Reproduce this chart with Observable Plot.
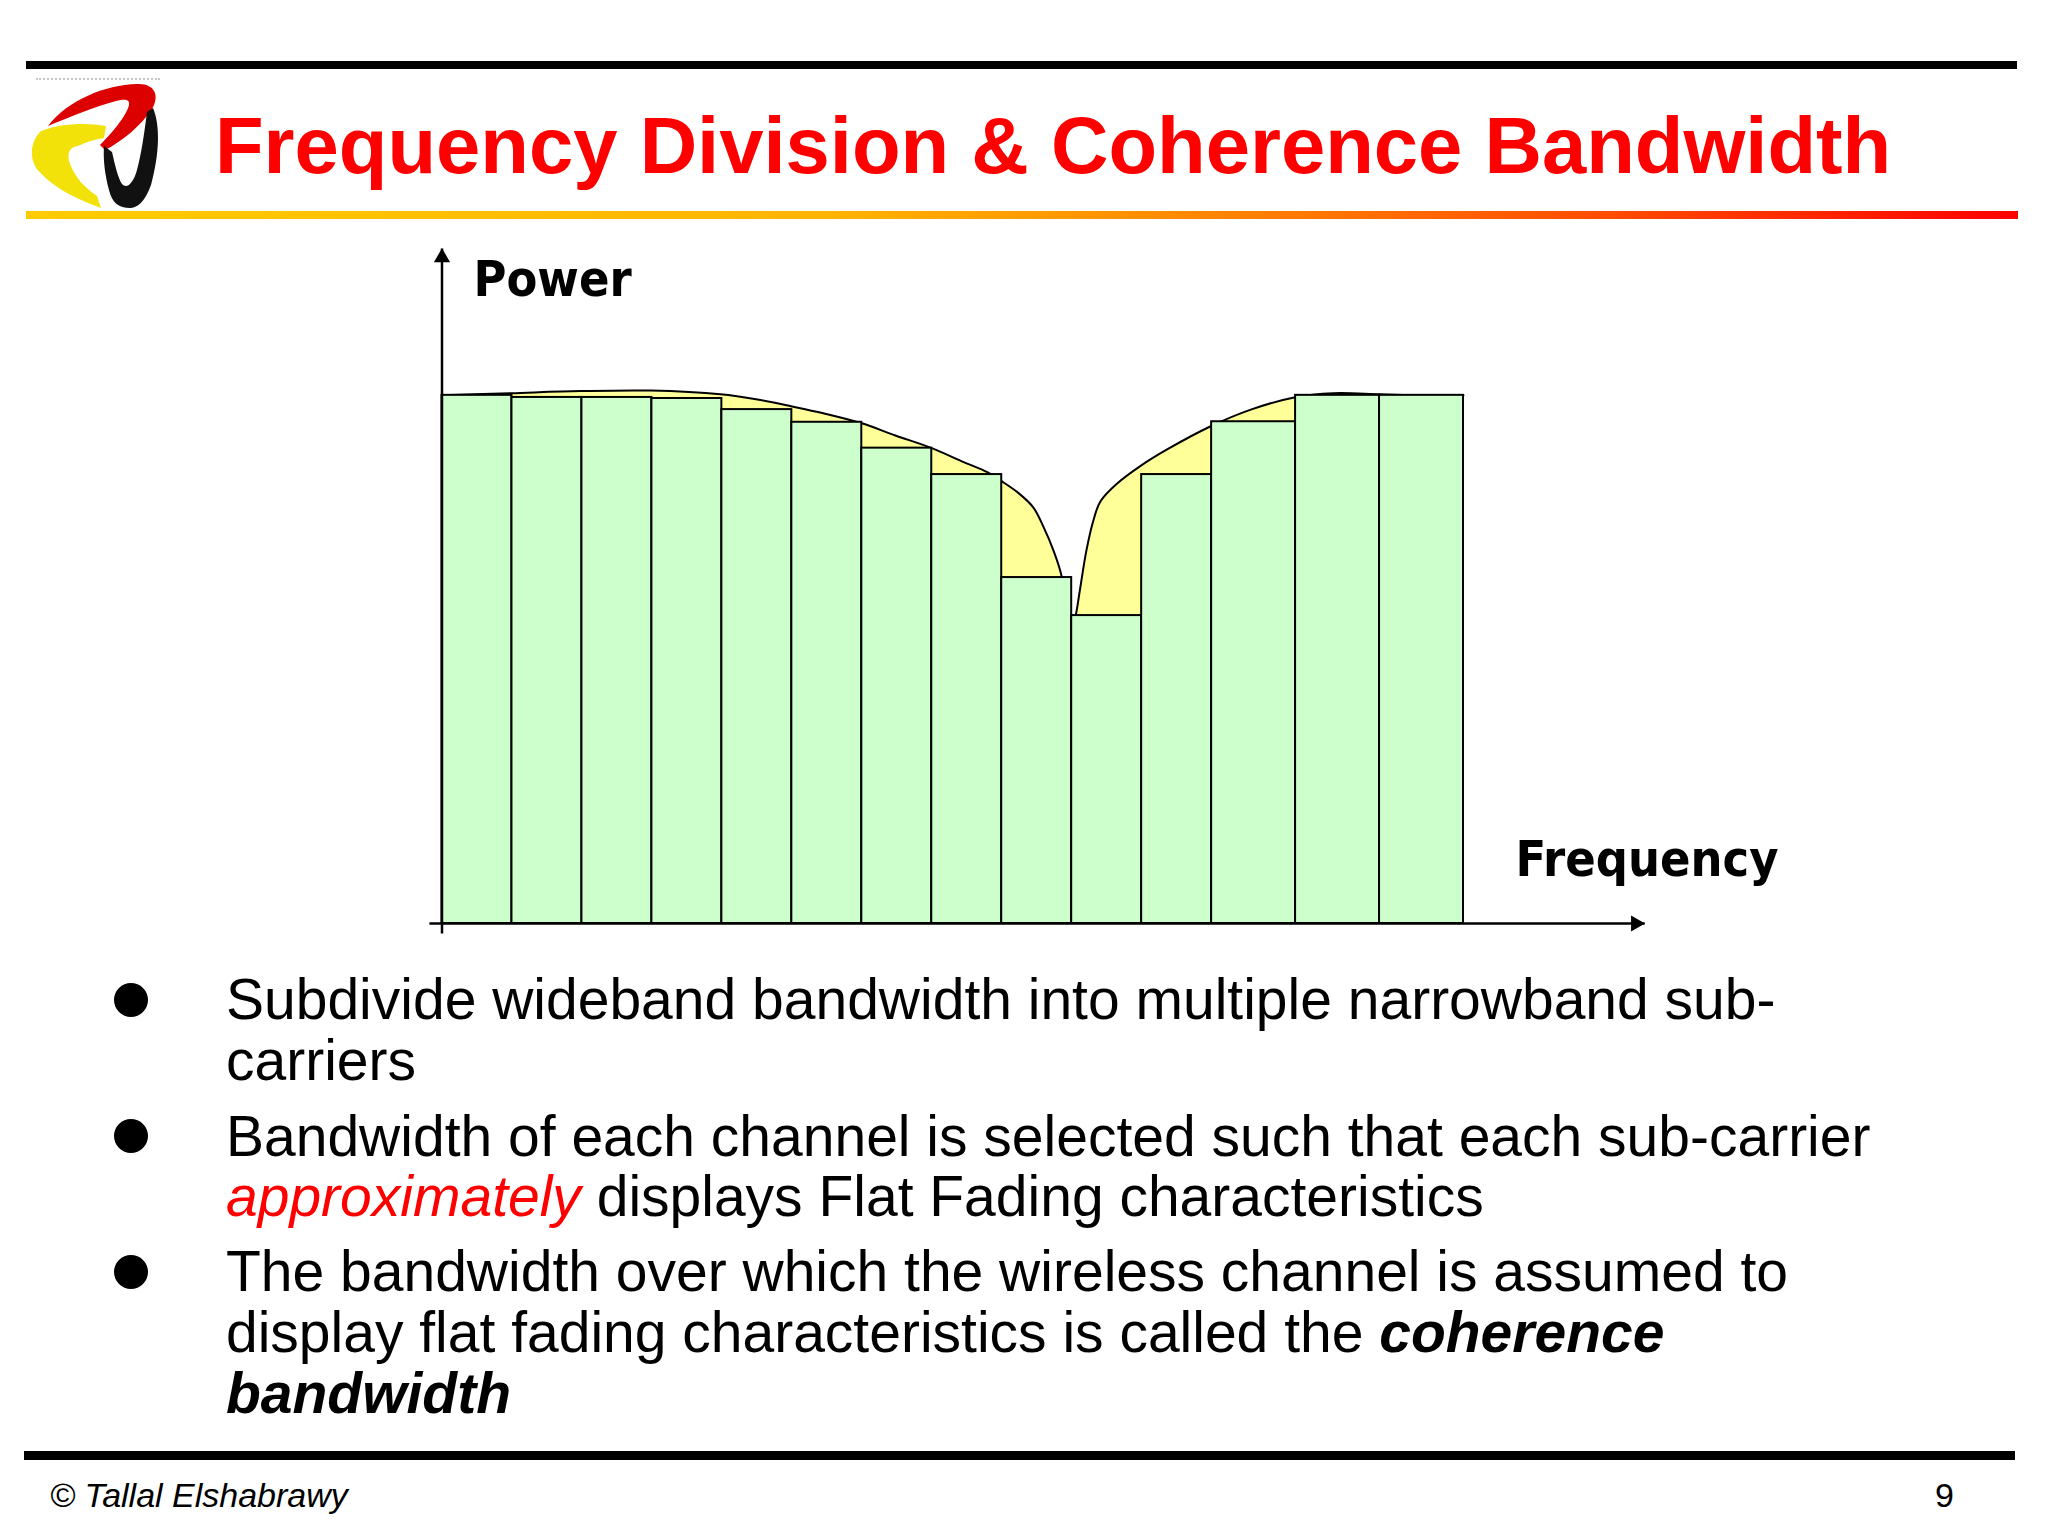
<!DOCTYPE html>
<html><head><meta charset="utf-8">
<script src="https://cdn.jsdelivr.net/npm/d3@7"></script>
<script src="https://cdn.jsdelivr.net/npm/@observablehq/plot@0.6"></script>
<style>
html,body{margin:0;padding:0;background:#fff;}
body{width:2048px;height:1536px;position:relative;overflow:hidden;font-family:"Liberation Sans",Arial,Helvetica,sans-serif;color:#000;}
.abs{position:absolute;white-space:nowrap;}
.rule{position:absolute;}
.title{left:215px;top:106px;font-size:79.6px;line-height:80px;font-weight:bold;color:#FF0000;}
.line{left:226px;font-size:57px;line-height:60px;}
.dot{position:absolute;left:114px;width:34px;height:34px;border-radius:50%;background:#000;}
.red{color:#FF0000;font-style:italic;}
.bi{font-weight:bold;font-style:italic;}
.foot{font-size:34px;line-height:34px;top:1478px;}
#chart{position:absolute;left:0;top:230px;}
</style></head><body>

<div class="rule" style="left:26px;top:61px;width:1991px;height:8px;background:#000;"></div>
<div class="rule" style="left:36px;top:78px;width:124px;height:0;border-top:2px dotted #c8c8c8;"></div>
<svg class="abs" style="left:0;top:0" width="200" height="220">
  <path d="M48,126 C68,100 105,85 137,84 C155,83 160,96 152,109 C141,126 121,142 105,150 L100,145 C115,130 127,114 129,105 C130,99 125,99 116,101 C93,107 70,117 48,126 Z" fill="#DD0000"/>
  <path d="M106,126 C85,122 58,124 41,131 C31,140 29,156 36,168 C49,184 70,197 101,208 L97,196 C85,187 75,179 69,161 C67,151 71,147 78,146 C89,141 97,139 104,138 Z" fill="#F2E20A"/>
  <path d="M153,108 C160,125 160,152 151,185 C145,202 137,208 130,208 C119,208 112,203 109,190 C105,175 103,160 104,146 L112,152 C115,165 118,178 122,184 C127,189 133,184 137,170 C141,155 144,136 147,112 Z" fill="#111"/>
</svg>
<div class="abs title">Frequency Division &amp; Coherence Bandwidth</div>
<div class="rule" style="left:26px;top:211px;width:1992px;height:8px;background:linear-gradient(to right,#FFCC00 0%,#FFB400 40%,#FF8A00 58%,#FF4A00 80%,#FF0000 100%);"></div>

<div id="chart"></div>

<div class="dot" style="top:983px"></div>
<div class="dot" style="top:1119px"></div>
<div class="dot" style="top:1255px"></div>
<div class="abs line" style="top:969px">Subdivide wideband bandwidth into multiple narrowband sub-</div>
<div class="abs line" style="top:1030px">carriers</div>
<div class="abs line" style="top:1106px">Bandwidth of each channel is selected such that each sub-carrier</div>
<div class="abs line" style="top:1166px"><span class="red">approximately</span> displays Flat Fading characteristics</div>
<div class="abs line" style="top:1241px">The bandwidth over which the wireless channel is assumed to</div>
<div class="abs line" style="top:1302px">display flat fading characteristics is called the <span class="bi">coherence</span></div>
<div class="abs line" style="top:1363px"><span class="bi">bandwidth</span></div>

<div class="rule" style="left:24px;top:1451px;width:1991px;height:9px;background:#000;"></div>
<div class="abs foot" style="left:50px;font-style:italic;">© Tallal Elshabrawy</div>
<div class="abs foot" style="left:1935px;">9</div>

<script>
// Sub-carrier band edges (frequency units) and their flat power levels
const subcarrierEdges = [0, 1, 2, 3, 4, 5, 6, 7, 8, 9, 10, 11, 12.2, 13.4, 14.6];
const subcarrierPower = [10.0, 9.96, 9.96, 9.94, 9.73, 9.49, 9.0, 8.5, 6.55, 5.83, 8.5, 9.5, 10.0, 10.0];

// Channel frequency response (smooth curve behind the bars)
const responseFreq  = [0.0, 0.99, 1.98, 2.98, 3.98, 4.51, 5.0, 5.45, 6.0, 6.48, 7.0, 7.43, 7.8, 7.98, 8.23, 8.45, 8.6, 8.74, 8.86, 8.96, 9.06, 9.11, 9.21, 9.31, 9.41, 9.65, 9.98, 10.37, 10.98, 11.56, 12.18, 12.74, 13.4, 13.98, 14.6];
const responsePower = [10.0, 10.04, 10.08, 10.09, 10.02, 9.92, 9.79, 9.66, 9.47, 9.24, 9.0, 8.75, 8.54, 8.39, 8.16, 7.88, 7.5, 7.06, 6.55, 5.36, 5.85, 6.25, 7.06, 7.63, 7.99, 8.33, 8.66, 8.98, 9.41, 9.73, 9.96, 10.04, 10.02, 10.0, 10.0];

const axisLabels = ["Power", "Frequency"];

const bars = subcarrierPower.map((p, i) => ({x1: subcarrierEdges[i], x2: subcarrierEdges[i + 1], p}));
const resp = responseFreq.map((f, i) => ({f, p: responsePower[i]}));

const labelFont = "'DejaVu Sans Condensed', 'DejaVu Sans', sans-serif";

const chart = Plot.plot({
  width: 2048,
  height: 720,
  marginLeft: 441.5,
  marginRight: 585,
  marginTop: 18,
  marginBottom: 27,
  x: {domain: [0, 14.6], axis: null},
  y: {domain: [0, 12.78], axis: null},
  style: {background: "transparent", overflow: "visible", fontFamily: labelFont},
  marks: [
    Plot.areaY(resp, {x: "f", y: "p", fill: "#FFFF99", curve: "catmull-rom"}),
    Plot.line(resp, {x: "f", y: "p", stroke: "#000", strokeWidth: 2, curve: "catmull-rom"}),
    Plot.rectY(bars, {x1: "x1", x2: "x2", y: "p", fill: "#CCFFCC", stroke: "#000", strokeWidth: 2}),
    Plot.link([0], {x1: -0.18, x2: 17.19, y1: 0, y2: 0, stroke: "#000", strokeWidth: 2.5}),
    Plot.link([0], {x1: 0, x2: 0, y1: -0.19, y2: 12.78, stroke: "#000", strokeWidth: 2.5}),
    Plot.dot([0], {x: 17.19, y: 0, symbol: "triangle", r: 6, fill: "#000", stroke: "none", rotate: 90, dx: -9}),
    Plot.dot([0], {x: 0, y: 12.78, symbol: "triangle", r: 6, fill: "#000", stroke: "none", rotate: 0, dy: 9}),
    Plot.text([axisLabels[0]], {text: d => d, frameAnchor: "top-left", dx: 31.5, dy: 47, textAnchor: "start", lineAnchor: "bottom", fontSize: 50, fontWeight: "bold", fill: "#000"}),
    Plot.text([axisLabels[1]], {text: d => d, frameAnchor: "bottom-right", dx: 52, dy: -48, textAnchor: "start", lineAnchor: "bottom", fontSize: 50, fontWeight: "bold", fill: "#000"})
  ]
});
chart.querySelectorAll("text").forEach(t => { t.style.fontStretch = "condensed"; });
document.getElementById("chart").appendChild(chart);
</script>
</body></html>
